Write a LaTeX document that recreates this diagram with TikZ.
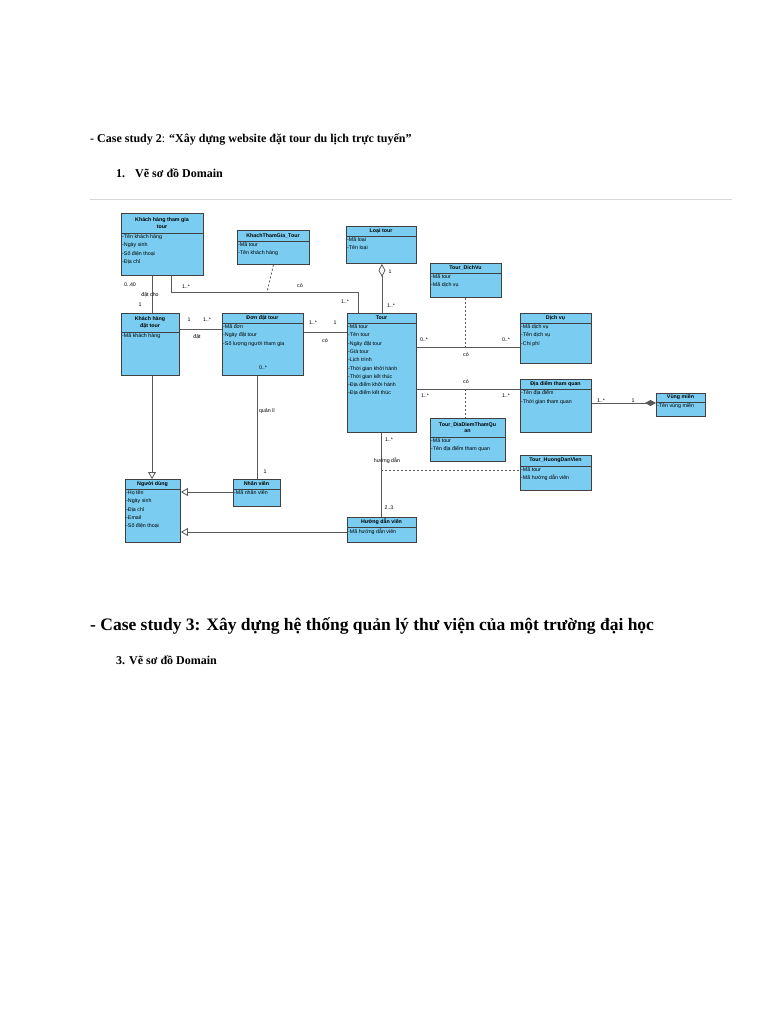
\documentclass[tikz,border=0pt]{standalone}
\usepackage{fontspec}
\setmainfont{Liberation Serif}
\newfontfamily\dsans{Liberation Sans}
\usetikzlibrary{calc,arrows.meta}
\definecolor{cls}{RGB}{122,204,240}
\definecolor{grl}{RGB}{215,215,215}
\newcommand\umlbox[8]{%
  \node[draw=black!75,line width=0.9pt,fill=cls,anchor=north west,inner sep=0pt,
        minimum width={(#4-#2)*1pt},minimum height={(#5-#3)*1pt}] (#1) at (#2,#3) {};
  \draw[black!75,line width=0.7pt] (#2,#6) -- (#4,#6);
  \node[font=\dsans\bfseries\fontsize{5.3}{6.2}\selectfont,align=center,inner sep=0pt] at ({(#2+#4)/2},{(#3+#6)/2}) {#7};
  \node[font=\dsans\fontsize{5.3}{8.3}\selectfont,align=left,anchor=north west,inner sep=1pt] at (#2,#6+0.5) {#8};
}
\tikzset{
  lab/.style={font=\dsans\fontsize{5.3}{6}\selectfont,inner sep=0pt},
  ln/.style={draw=black!65,line width=0.8pt},
  dsh/.style={draw=black!65,line width=0.8pt,dash pattern=on 2pt off 2pt},
  gen/.style={ln,-{Triangle[open,length=7pt,width=8pt,fill=white]}},
  agg/.style={ln,{Diamond[open,length=13pt,width=7pt,fill=white]}-},
  comp/.style={ln,-{Diamond[length=11pt,width=6pt]}},
}
\begin{document}
\begin{tikzpicture}[x=1pt,y=-1pt]
\useasboundingbox[fill=white] (0,0) rectangle (768,1024);
\node[anchor=west,inner sep=0pt,font=\fontsize{12}{14}\selectfont] (t1) at (90,139) {\textbf{- Case study 2}: \textbf{“Xây dựng website đặt tour du lịch trực tuyến”}};
\node[anchor=west,inner sep=0pt,font=\bfseries\fontsize{12}{14}\selectfont] (t2) at (116,173) {1.\hspace{10pt}Vẽ sơ đồ Domain};
\draw[grl,line width=0.8pt] (90,199) -- (732,199);
\node[anchor=west,inner sep=0pt,font=\bfseries\fontsize{17.5}{20}\selectfont] (t3) at (90,626) {- Case study 3: Xây dựng hệ thống quản lý thư viện của một trường đại học};
\node[anchor=west,inner sep=0pt,font=\bfseries\fontsize{12}{14}\selectfont] (t4) at (116,660) {3. Vẽ sơ đồ Domain};

\umlbox{khtg}{121}{213}{203}{275}{233}{Khách hàng tham gia\\tour}{-Tên khách hàng\\-Ngày sinh\\-Số điện thoại\\-Địa chỉ}
\umlbox{ktgt}{237}{230}{309}{264}{241}{KhachThamGia\_Tour}{-Mã tour\\-Tên khách hàng}
\umlbox{loai}{346}{226}{416}{263}{236}{Loại tour}{-Mã loại\\-Tên loại}
\umlbox{tdv}{430}{263}{501}{297}{273}{Tour\_DichVu}{-Mã tour\\-Mã dịch vụ}
\umlbox{khd}{121}{313}{179}{375}{332}{Khách hàng\\đặt tour}{-Mã khách hàng}
\umlbox{don}{222}{313}{303}{375}{323}{Đơn đặt tour}{-Mã đơn\\-Ngày đặt tour\\-Số lượng người tham gia}
\umlbox{tour}{347}{313}{416}{432}{323}{Tour}{-Mã tour\\-Tên tour\\-Ngày đặt tour\\-Giá tour\\-Lịch trình\\-Thời gian khởi hành\\-Thời gian kết thúc\\-Địa điểm khởi hành\\-Địa điểm kết thúc}
\umlbox{dv}{520}{313}{591}{363}{323}{Dịch vụ}{-Mã dịch vụ\\-Tên dịch vụ\\-Chi phí}
\umlbox{dd}{520}{379}{591}{432}{389}{Địa điểm tham quan}{-Tên địa điểm\\-Thời gian tham quan}
\umlbox{vm}{656}{393}{705}{416}{402}{Vùng miền}{-Tên vùng miền}
\umlbox{tddtq}{430}{418}{505}{461}{437}{Tour\_DiaDiemThamQu\\an}{-Mã tour\\-Tên địa điểm tham quan}
\umlbox{thdv}{520}{455}{591}{490}{466}{Tour\_HuongDanVien}{-Mã tour\\-Mã hướng dẫn viên}
\umlbox{nd}{125}{479}{180}{542}{489}{Người dùng}{-Họ tên\\-Ngày sinh\\-Địa chỉ\\-Email\\-Số điện thoại}
\umlbox{nv}{233}{479}{280}{506}{489}{Nhân viên}{-Mã nhân viên}
\umlbox{hdv}{347}{517}{416}{542}{527}{Hướng dẫn viên}{-Mã hướng dẫn viên}

% khtg - khd
\draw[ln] ($(khtg.south west)+(31,0)$) -- ($(khd.north west)+(31,0)$);
\node[lab] at (130,285) {0..40}; \node[lab] at (150,295) {đặt cho}; \node[lab] at (140,305) {1};
% khtg - tour
\coordinate (c1) at (171,292); \coordinate (c2) at (358,292); \coordinate (c3) at (267,292);
\draw[ln] ($(khtg.south west)+(50,0)$) -- (c1) -- (c2) -- ($(tour.north west)+(11,0)$);
\draw[dsh] (ktgt.south) -- (c3);
\node[lab] at (186,287) {1..*}; \node[lab] at (300,286) {có}; \node[lab] at (345,302) {1..*};
% khd - don
\draw[ln] ($(khd.north east)+(0,16)$) -- ($(don.north west)+(0,16)$);
\node[lab] at (189,320) {1}; \node[lab] at (207,320) {1..*}; \node[lab] at (197,337) {đặt};
% don - tour
\draw[ln] ($(don.north east)+(0,19)$) -- ($(tour.north west)+(0,19)$);
\node[lab] at (313,323) {1..*}; \node[lab] at (335,323) {1}; \node[lab] at (325,341) {có};
% loai - tour
\draw[agg] (loai.south -| tour.north) -- (tour.north);
\node[lab] at (390,272) {1}; \node[lab] at (391,306) {1..*};
% tour - dv
\coordinate (c4) at (465,347);
\draw[ln] ($(tour.north east)+(0,34)$) -- ($(dv.north west)+(0,34)$);
\draw[dsh] (tdv.south -| c4) -- (c4);
\node[lab] at (424,340) {0..*}; \node[lab] at (506,340) {0..*}; \node[lab] at (466,355) {có};
% tour - dd
\coordinate (c5) at (465,389);
\draw[ln] ($(tour.north east)+(0,76)$) -- (dd.north west |- c5);
\draw[dsh] (c5) -- (tddtq.north -| c5);
\node[lab] at (466,382) {có}; \node[lab] at (425,396) {1..*}; \node[lab] at (506,396) {1..*};
% dd - vm
\draw[comp] ($(dd.north east)+(0,24)$) -- ($(vm.north west)+(0,10)$);
\node[lab] at (601,401) {1..*}; \node[lab] at (633,401) {1};
% generalisations
\draw[gen] ($(khd.south west)+(31,0)$) -- ($(nd.north west)+(27,0)$);
\draw[gen] ($(nv.north west)+(0,13)$) -- ($(nd.north east)+(0,13)$);
\draw[gen] ($(hdv.north west)+(0,15)$) -- ($(nd.north east)+(0,53)$);
% don - nv
\draw[ln] ($(don.south west)+(35,0)$) -- ($(nv.north west)+(24,0)$);
\node[lab] at (263,368) {0..*}; \node[lab] at (267,411) {quản lí}; \node[lab] at (265,472) {1};
% tour - hdv
\coordinate (c6) at (381,470);
\draw[ln] (tour.south -| c6) -- (hdv.north -| c6);
\draw[dsh] (c6) -- (thdv.west |- c6);
\node[lab] at (389,440) {1..*}; \node[lab] at (387,461) {hướng dẫn}; \node[lab] at (389,508) {2..3};
\end{tikzpicture}
\end{document}
